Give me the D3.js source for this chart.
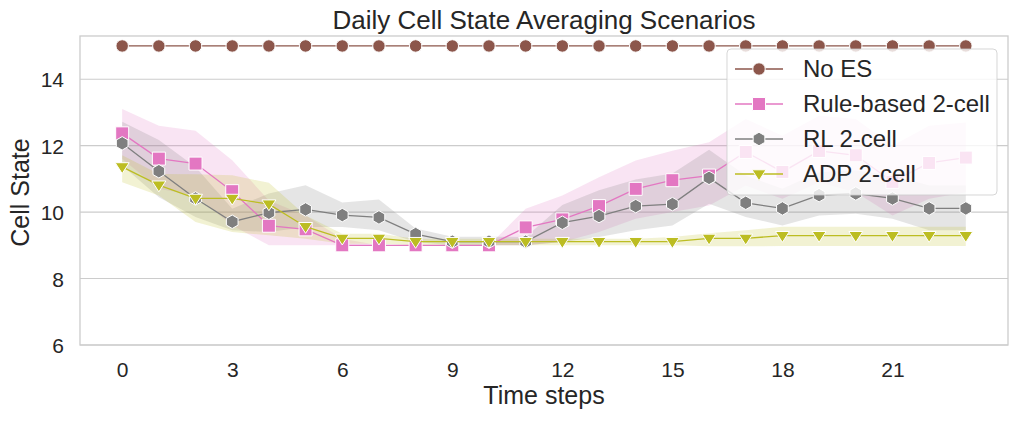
<!DOCTYPE html>
<html><head><meta charset="utf-8">
<script src="https://cdn.jsdelivr.net/npm/d3@7"></script>
<style>body{margin:0;background:#fff}svg{display:block}text{font-family:"Liberation Sans",Arial,sans-serif;fill:#262626}</style>
</head><body><svg id="c" width="1019" height="421"></svg>
<script>
const steps = d3.range(0, 24);
const noES = steps.map(() => 15);
const ruleMean = [12.37,11.61,11.46,10.63,9.59,9.48,9.0,9.0,9.0,9.0,9.0,9.54,9.78,10.18,10.70,10.96,11.10,11.81,11.21,11.84,11.71,10.91,11.48,11.64];
const ruleLo = [11.6,10.7,10.5,9.6,9.0,9.0,9.0,9.0,9.0,9.0,9.0,9.0,9.1,9.4,9.8,10.0,10.2,10.8,10.4,10.9,10.6,9.9,10.4,10.6];
const ruleHi = [13.1,12.6,12.45,11.56,10.35,9.9,9.2,9.0,9.0,9.0,9.0,10.1,10.5,11.05,11.55,11.85,12.1,12.8,12.3,12.9,12.8,12.0,12.6,12.7];
const rlMean = [12.07,11.23,10.41,9.71,9.98,10.08,9.91,9.84,9.34,9.11,9.11,9.11,9.68,9.88,10.18,10.24,11.03,10.28,10.11,10.51,10.56,10.41,10.11,10.11];
const rlLo = [11.4,10.45,9.85,9.45,9.4,9.55,9.55,9.45,9.1,9.0,9.0,9.0,9.1,9.25,9.45,9.6,10.25,9.85,9.6,9.9,9.95,9.8,9.45,9.45];
const rlHi = [12.72,12.17,11.36,10.1,10.56,10.81,10.29,10.38,9.51,9.26,9.26,9.25,10.21,10.66,10.98,11.16,11.88,11.1,10.7,11.2,11.25,11.1,10.8,10.8];
const adpMean = [11.36,10.81,10.41,10.41,10.24,9.56,9.21,9.21,9.11,9.11,9.11,9.11,9.11,9.11,9.11,9.11,9.21,9.21,9.29,9.29,9.29,9.29,9.29,9.29];
const adpLo = [10.9,10.5,9.7,9.4,9.3,9.2,9.05,9.05,9.0,9.0,9.0,9.0,9.0,9.0,9.0,9.0,8.97,8.97,8.98,8.98,8.98,8.98,8.98,8.98];
const adpHi = [11.71,11.15,11.14,11.11,10.88,9.9,9.35,9.35,9.2,9.2,9.2,9.2,9.2,9.2,9.2,9.25,9.36,9.45,9.56,9.56,9.56,9.56,9.56,9.56];
const xTicks = [0,3,6,9,12,15,18,21];
const yTicks = [6,8,10,12,14];
const seriesNames = ["No ES","Rule-based 2-cell","RL 2-cell","ADP 2-cell"];
const seriesColors = ["#8c564b","#e377c2","#7f7f7f","#bcbd22"];
const seriesMarkers = ["circle","square","hexagon","triangle"];

const series = [
  {mean: noES, lo: null, hi: null},
  {mean: ruleMean, lo: ruleLo, hi: ruleHi},
  {mean: rlMean, lo: rlLo, hi: rlHi},
  {mean: adpMean, lo: adpLo, hi: adpHi}
].map((s,i)=>Object.assign(s,{name:seriesNames[i],color:seriesColors[i],marker:seriesMarkers[i]}));

const L=80, R=1008, T=36, B=345;
const svg = d3.select("#c");
const x = d3.scaleLinear().domain([-1.15, 24.15]).range([L, R]);
const y = d3.scaleLinear().domain([6, 15.3]).range([B, T]);

svg.append("rect").attr("x",L).attr("y",T).attr("width",R-L).attr("height",B-T).attr("fill","#fff");
svg.append("g").selectAll("line").data(yTicks).join("line")
  .attr("x1",L).attr("x2",R).attr("y1",d=>y(d)).attr("y2",d=>y(d))
  .attr("stroke","#cccccc").attr("stroke-width",1.1);

svg.append("clipPath").attr("id","pc").append("rect").attr("x",L).attr("y",T).attr("width",R-L).attr("height",B-T);
const plot = svg.append("g").attr("clip-path","url(#pc)");

series.forEach(s=>{
  if(!s.lo) return;
  const area = d3.area().x((d,i)=>x(steps[i])).y0((d,i)=>y(s.lo[i])).y1((d,i)=>y(s.hi[i]));
  plot.append("path").datum(s.mean).attr("d",area).attr("fill",s.color).attr("fill-opacity",0.2).attr("stroke","none");
});

function symPath(type, size){
  if(type==="circle") return d3.symbol(d3.symbolCircle, size*size*Math.PI/4)();
  if(type==="square") { const h=size/2; return `M${-h},${-h}H${h}V${h}H${-h}Z`; }
  if(type==="hexagon"){ const r=size/2; let p=""; for(let k=0;k<6;k++){const a=Math.PI/2+k*Math.PI/3; p+=(k?"L":"M")+(r*Math.cos(a)).toFixed(2)+","+(-r*Math.sin(a)).toFixed(2);} return p+"Z"; }
  if(type==="triangle"){ const r=size/2; return `M${-r},${-r*0.6}L${r},${-r*0.6}L0,${r*0.95}Z`; }
}
const msize = {circle:12.5, square:13, hexagon:13.5, triangle:14};

series.forEach(s=>{
  const line = d3.line().x((d,i)=>x(steps[i])).y(d=>y(d));
  plot.append("path").datum(s.mean).attr("d",line).attr("fill","none").attr("stroke",s.color).attr("stroke-width",1.3);
  plot.append("g").selectAll("path").data(s.mean).join("path")
    .attr("transform",(d,i)=>`translate(${x(steps[i])},${y(d)})`)
    .attr("d",symPath(s.marker,msize[s.marker]))
    .attr("fill",s.color).attr("stroke","#fff").attr("stroke-width",1);
});

svg.append("rect").attr("x",L).attr("y",T).attr("width",R-L).attr("height",B-T).attr("fill","none").attr("stroke","#cccccc").attr("stroke-width",1.3);

const xa = svg.append("g").attr("transform",`translate(0,${B})`).call(d3.axisBottom(x).tickValues(xTicks).tickSize(0).tickPadding(0));
const ya = svg.append("g").attr("transform",`translate(${L},0)`).call(d3.axisLeft(y).tickValues(yTicks).tickSize(0).tickPadding(16));
[xa,ya].forEach(a=>{a.select(".domain").remove(); a.selectAll("text").attr("font-size",21).attr("font-family","Liberation Sans, Arial, sans-serif").attr("fill","#262626");});
xa.selectAll("text").attr("dy",null).attr("y",32);
ya.selectAll("text").attr("dy","0.36em");

svg.append("text").attr("x",(L+R)/2).attr("y",28.5).attr("text-anchor","middle").attr("font-size",26).text("Daily Cell State Averaging Scenarios");
svg.append("text").attr("x",(L+R)/2).attr("y",404).attr("text-anchor","middle").attr("font-size",25).text("Time steps");
svg.append("text").attr("transform",`translate(28.5,${(T+B)/2+2}) rotate(-90)`).attr("text-anchor","middle").attr("font-size",25).text("Cell State");

const lg = svg.append("g").attr("transform","translate(727,49)");
lg.append("rect").attr("width",270).attr("height",146).attr("rx",4).attr("fill","#fff").attr("fill-opacity",0.8).attr("stroke","#cccccc").attr("stroke-opacity",0.8);
series.forEach((s,i)=>{
  const yy = 20 + i*35;
  lg.append("line").attr("x1",8).attr("x2",56).attr("y1",yy).attr("y2",yy).attr("stroke",s.color).attr("stroke-width",1.3);
  lg.append("path").attr("transform",`translate(32,${yy})`).attr("d",symPath(s.marker,msize[s.marker])).attr("fill",s.color).attr("stroke","#fff").attr("stroke-width",1);
  lg.append("text").attr("x",76).attr("y",yy+7.5).attr("font-size",24).text(s.name);
});
</script></body></html>
